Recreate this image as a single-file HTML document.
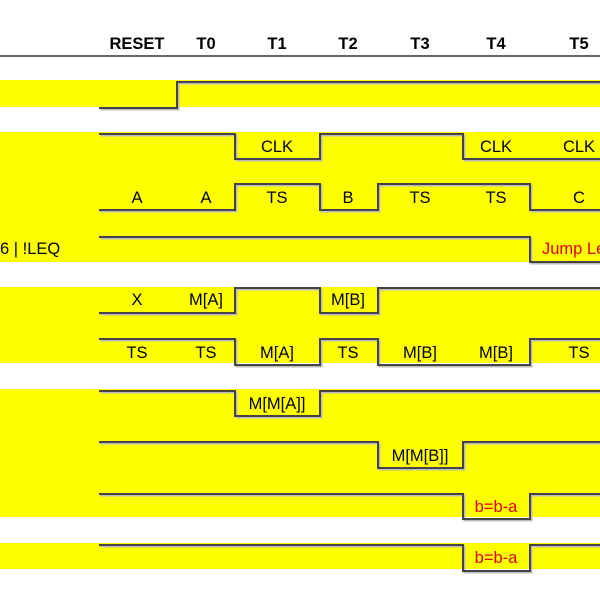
<!DOCTYPE html>
<html><head><style>body{margin:0;background:#fff}svg{display:block}</style></head><body>
<svg width="600" height="600" xmlns="http://www.w3.org/2000/svg" font-family="Liberation Sans, Arial, sans-serif">
<g fill="#ffff00">
<rect x="0" y="80" width="600" height="27"/>
<rect x="0" y="132" width="600" height="130"/>
<rect x="0" y="287" width="600" height="76"/>
<rect x="0" y="389" width="600" height="128"/>
<rect x="0" y="543" width="600" height="26"/>
</g>
<line x1="0" y1="56" x2="600" y2="56" stroke="#666" stroke-width="2"/>
<g font-weight="bold" font-size="16.5" text-anchor="middle" fill="#000">
<text x="137" y="49">RESET</text><text x="206" y="49">T0</text><text x="277" y="49">T1</text>
<text x="348" y="49">T2</text><text x="420" y="49">T3</text><text x="496" y="49">T4</text><text x="579" y="49">T5</text>
</g>
<g fill="none" stroke="#bbb" stroke-width="2" transform="translate(1.5,1.5)">
<polyline points="99,108 177,108 177,82 600,82"/>
<polyline points="99,134 235,134 235,159 320,159 320,134 463,134 463,159 600,159"/>
<polyline points="99,210 235,210 235,184 320,184 320,210 378,210 378,184 530,184 530,210 600,210"/>
<polyline points="99,237 530,237 530,262 600,262"/>
<polyline points="99,313 235,313 235,288 320,288 320,313 378,313 378,288 600,288"/>
<polyline points="99,339 235,339 235,365 320,365 320,339 378,339 378,365 530,365 530,339 600,339"/>
<polyline points="99,391 235,391 235,416 320,416 320,391 600,391"/>
<polyline points="99,442 378,442 378,468 463,468 463,442 600,442"/>
<polyline points="99,494 463,494 463,519 530,519 530,494 600,494"/>
<polyline points="99,545 463,545 463,571 530,571 530,545 600,545"/>
</g>
<g fill="none" stroke="#444" stroke-width="2">
<polyline points="99,108 177,108 177,82 600,82"/>
<polyline points="99,134 235,134 235,159 320,159 320,134 463,134 463,159 600,159"/>
<polyline points="99,210 235,210 235,184 320,184 320,210 378,210 378,184 530,184 530,210 600,210"/>
<polyline points="99,237 530,237 530,262 600,262"/>
<polyline points="99,313 235,313 235,288 320,288 320,313 378,313 378,288 600,288"/>
<polyline points="99,339 235,339 235,365 320,365 320,339 378,339 378,365 530,365 530,339 600,339"/>
<polyline points="99,391 235,391 235,416 320,416 320,391 600,391"/>
<polyline points="99,442 378,442 378,468 463,468 463,442 600,442"/>
<polyline points="99,494 463,494 463,519 530,519 530,494 600,494"/>
<polyline points="99,545 463,545 463,571 530,571 530,545 600,545"/>
</g>
<g font-size="16.5" text-anchor="middle" fill="#000">
<text x="277" y="152">CLK</text><text x="496" y="152">CLK</text><text x="579" y="152">CLK</text>
<text x="137" y="203">A</text><text x="206" y="203">A</text><text x="277" y="203">TS</text><text x="348" y="203">B</text><text x="420" y="203">TS</text><text x="496" y="203">TS</text><text x="579" y="203">C</text>
<text x="137" y="305">X</text><text x="206" y="305">M[A]</text><text x="348" y="305">M[B]</text>
<text x="137" y="358">TS</text><text x="206" y="358">TS</text><text x="277" y="358">M[A]</text><text x="348" y="358">TS</text><text x="420" y="358">M[B]</text><text x="496" y="358">M[B]</text><text x="579" y="358">TS</text>
<text x="277" y="409">M[M[A]]</text>
<text x="420" y="461">M[M[B]]</text>
</g>
<text x="0" y="254" font-size="16.5" fill="#000">6 | !LEQ</text>
<g font-size="16.5" fill="#e00000">
<text x="542" y="254">Jump Le</text>
<text x="496" y="512" text-anchor="middle">b=b-a</text>
<text x="496" y="563" text-anchor="middle">b=b-a</text>
</g>
</svg>
</body></html>
